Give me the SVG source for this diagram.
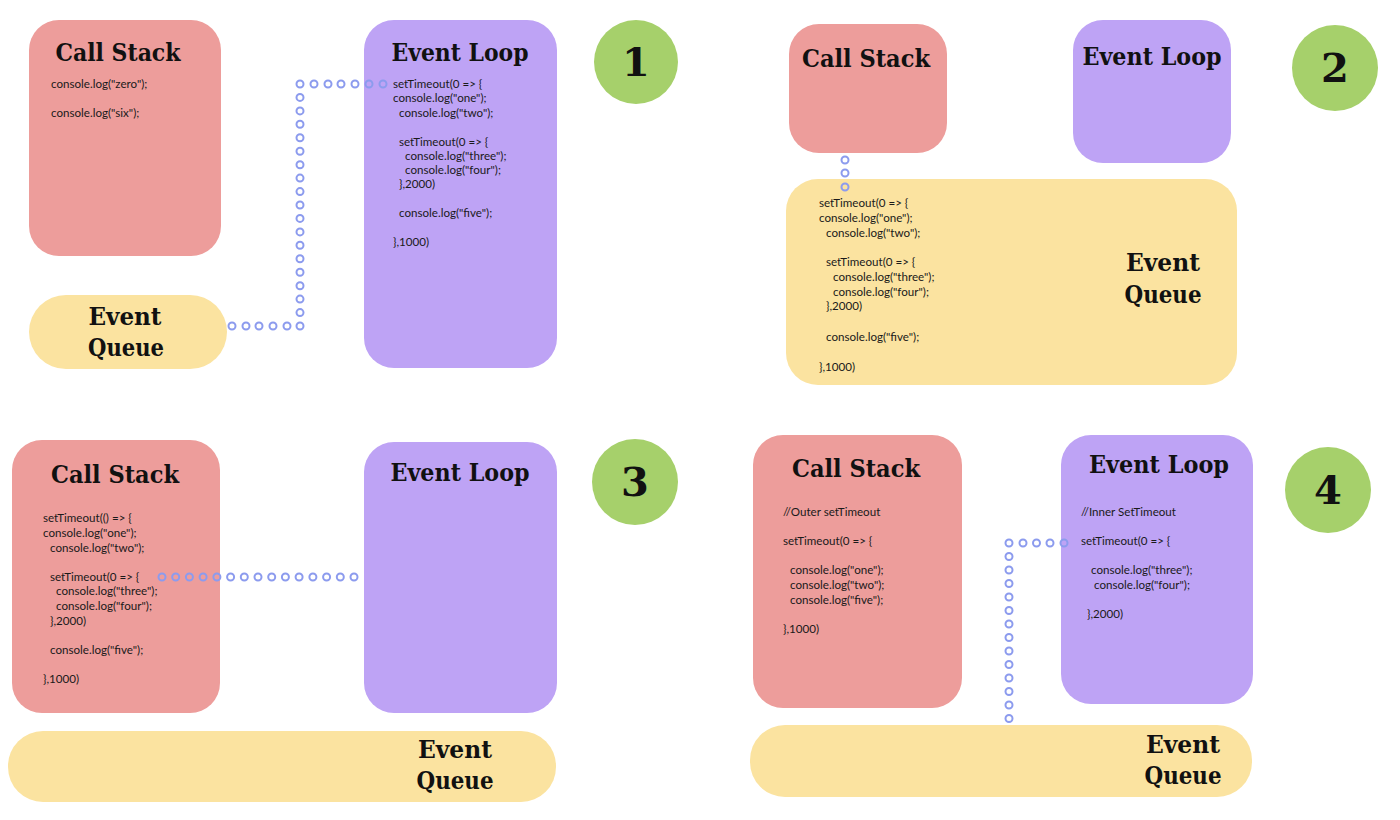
<svg xmlns="http://www.w3.org/2000/svg" xmlns:xlink="http://www.w3.org/1999/xlink" width="1400" height="820" viewBox="0 0 1400 820">
<style>
.cs{fill:#ed9d9b}
.el{fill:#bea3f5}
.eq{fill:#fbe3a0}
.num{fill:#a6d06b}
.t{font-family:"DejaVu Serif Condensed","DejaVu Serif",serif;font-weight:bold;font-size:24px;fill:#111;text-anchor:middle}
.n{font-family:"DejaVu Serif","Liberation Serif",serif;font-weight:bold;font-size:40px;fill:#111;text-anchor:middle}
.c{font-family:Lato,"Liberation Sans",sans-serif;font-size:11.6px;fill:#1a1a1a}
.d{fill:none;stroke:#8c9bee;stroke-width:2}
</style>
<defs>
<circle id="dot" class="d" r="3.5"/>
</defs>
<rect width="1400" height="820" fill="#ffffff"/>

<!-- Panel 1 -->
<g id="p1-callstack">
<rect class="cs" x="29" y="20" width="192" height="236" rx="30"/>
<text class="t" x="118" y="61" textLength="125" lengthAdjust="spacingAndGlyphs">Call Stack</text>
<text class="c" x="51" y="88">console.log("zero");</text>
<text class="c" x="51" y="117">console.log("six");</text>
</g>
<g id="p1-eventqueue">
<rect class="eq" x="29" y="295" width="198" height="74" rx="37"/>
<text class="t" x="125" y="325" textLength="73" lengthAdjust="spacingAndGlyphs">Event</text>
<text class="t" x="126" y="356" textLength="76" lengthAdjust="spacingAndGlyphs">Queue</text>
</g>
<g id="p1-eventloop">
<rect class="el" x="364" y="20" width="193" height="348" rx="30"/>
<text class="t" x="460" y="61" textLength="137" lengthAdjust="spacingAndGlyphs">Event Loop</text>
<text class="c" x="393" y="88">setTimeout(0 =&gt; {</text>
<text class="c" x="393" y="102">console.log("one");</text>
<text class="c" x="399" y="117">console.log("two");</text>
<text class="c" x="399" y="146">setTimeout(0 =&gt; {</text>
<text class="c" x="405" y="160">console.log("three");</text>
<text class="c" x="405" y="174">console.log("four");</text>
<text class="c" x="399" y="188">},2000)</text>
<text class="c" x="399" y="217">console.log("five");</text>
<text class="c" x="393" y="246">},1000)</text>
</g>
<g id="p1-number">
<circle class="num" cx="636" cy="62" r="42"/>
<text class="n" x="636" y="76">1</text>
</g>

<!-- Panel 2 -->
<g id="p2-callstack">
<rect class="cs" x="789" y="24" width="158" height="129" rx="30"/>
<text class="t" x="866" y="67" textLength="128" lengthAdjust="spacingAndGlyphs">Call Stack</text>
</g>
<g id="p2-eventloop">
<rect class="el" x="1073" y="20" width="158" height="143" rx="30"/>
<text class="t" x="1152" y="65" textLength="139" lengthAdjust="spacingAndGlyphs">Event Loop</text>
</g>
<g id="p2-eventqueue">
<rect class="eq" x="786" y="179" width="451" height="206" rx="32"/>
<text class="c" x="819" y="207">setTimeout(0 =&gt; {</text>
<text class="c" x="819" y="222">console.log("one");</text>
<text class="c" x="826" y="237">console.log("two");</text>
<text class="c" x="826" y="266">setTimeout(0 =&gt; {</text>
<text class="c" x="833" y="281">console.log("three");</text>
<text class="c" x="833" y="296">console.log("four");</text>
<text class="c" x="826" y="310">},2000)</text>
<text class="c" x="826" y="341">console.log("five");</text>
<text class="c" x="819" y="371">},1000)</text>
<text class="t" x="1163" y="271" textLength="74" lengthAdjust="spacingAndGlyphs">Event</text>
<text class="t" x="1163" y="303" textLength="77" lengthAdjust="spacingAndGlyphs">Queue</text>
</g>
<g id="p2-number">
<circle class="num" cx="1335" cy="68" r="43"/>
<text class="n" x="1335" y="82">2</text>
</g>

<!-- Panel 3 -->
<g id="p3-callstack">
<rect class="cs" x="12" y="440" width="208" height="273" rx="30"/>
<text class="t" x="115" y="483" textLength="128" lengthAdjust="spacingAndGlyphs">Call Stack</text>
<text class="c" x="43" y="522">setTimeout(() =&gt; {</text>
<text class="c" x="43" y="537">console.log("one");</text>
<text class="c" x="50" y="552">console.log("two");</text>
<text class="c" x="50" y="581">setTimeout(0 =&gt; {</text>
<text class="c" x="56" y="595">console.log("three");</text>
<text class="c" x="56" y="610">console.log("four");</text>
<text class="c" x="50" y="625">},2000)</text>
<text class="c" x="50" y="654">console.log("five");</text>
<text class="c" x="43" y="683">},1000)</text>
</g>
<g id="p3-eventloop">
<rect class="el" x="364" y="442" width="193" height="271" rx="30"/>
<text class="t" x="460" y="481" textLength="139" lengthAdjust="spacingAndGlyphs">Event Loop</text>
</g>
<g id="p3-eventqueue">
<rect class="eq" x="8" y="731" width="548" height="71" rx="35"/>
<text class="t" x="455" y="758" textLength="74" lengthAdjust="spacingAndGlyphs">Event</text>
<text class="t" x="455" y="789" textLength="77" lengthAdjust="spacingAndGlyphs">Queue</text>
</g>
<g id="p3-number">
<circle class="num" cx="635" cy="482" r="43"/>
<text class="n" x="635" y="496">3</text>
</g>

<!-- Panel 4 -->
<g id="p4-callstack">
<rect class="cs" x="753" y="435" width="209" height="273" rx="30"/>
<text class="t" x="856" y="477" textLength="128" lengthAdjust="spacingAndGlyphs">Call Stack</text>
<text class="c" x="783" y="516">//Outer setTimeout</text>
<text class="c" x="783" y="545">setTimeout(0 =&gt; {</text>
<text class="c" x="790" y="574">console.log("one");</text>
<text class="c" x="790" y="589">console.log("two");</text>
<text class="c" x="790" y="604">console.log("five");</text>
<text class="c" x="783" y="633">},1000)</text>
</g>
<g id="p4-eventloop">
<rect class="el" x="1061" y="435" width="192" height="269" rx="30"/>
<text class="t" x="1159" y="473" textLength="140" lengthAdjust="spacingAndGlyphs">Event Loop</text>
<text class="c" x="1081" y="516">//Inner SetTimeout</text>
<text class="c" x="1081" y="545">setTimeout(0 =&gt; {</text>
<text class="c" x="1091" y="574">console.log("three");</text>
<text class="c" x="1094" y="589">console.log("four");</text>
<text class="c" x="1087" y="618">},2000)</text>
</g>
<g id="p4-eventqueue">
<rect class="eq" x="750" y="725" width="502" height="72" rx="35"/>
<text class="t" x="1183" y="753" textLength="74" lengthAdjust="spacingAndGlyphs">Event</text>
<text class="t" x="1183" y="784" textLength="77" lengthAdjust="spacingAndGlyphs">Queue</text>
</g>
<g id="p4-number">
<circle class="num" cx="1328" cy="490" r="43"/>
<text class="n" x="1328" y="504">4</text>
</g>

<!-- Connectors -->
<g id="connectors">
<!-- panel 1 -->
<use xlink:href="#dot" x="314" y="84"/><use xlink:href="#dot" x="328" y="84"/><use xlink:href="#dot" x="341" y="84"/><use xlink:href="#dot" x="355" y="84"/><use xlink:href="#dot" x="369" y="84"/><use xlink:href="#dot" x="383" y="84"/>
<use xlink:href="#dot" x="300" y="84"/><use xlink:href="#dot" x="300" y="97.4"/><use xlink:href="#dot" x="300" y="110.9"/><use xlink:href="#dot" x="300" y="124.3"/><use xlink:href="#dot" x="300" y="137.8"/><use xlink:href="#dot" x="300" y="151.2"/><use xlink:href="#dot" x="300" y="164.7"/><use xlink:href="#dot" x="300" y="178.1"/><use xlink:href="#dot" x="300" y="191.6"/><use xlink:href="#dot" x="300" y="205"/><use xlink:href="#dot" x="300" y="218.4"/><use xlink:href="#dot" x="300" y="231.9"/><use xlink:href="#dot" x="300" y="245.3"/><use xlink:href="#dot" x="300" y="258.8"/><use xlink:href="#dot" x="300" y="272.2"/><use xlink:href="#dot" x="300" y="285.7"/><use xlink:href="#dot" x="300" y="299.1"/><use xlink:href="#dot" x="300" y="312.6"/><use xlink:href="#dot" x="300" y="326"/>
<use xlink:href="#dot" x="232" y="326"/><use xlink:href="#dot" x="246" y="326"/><use xlink:href="#dot" x="259" y="326"/><use xlink:href="#dot" x="273" y="326"/><use xlink:href="#dot" x="287" y="326"/>
<!-- panel 2 -->
<use xlink:href="#dot" x="845" y="160"/><use xlink:href="#dot" x="845" y="173"/><use xlink:href="#dot" x="845" y="187"/>
<!-- panel 3 -->
<use xlink:href="#dot" x="162" y="577"/><use xlink:href="#dot" x="175.7" y="577"/><use xlink:href="#dot" x="189.4" y="577"/><use xlink:href="#dot" x="203.1" y="577"/><use xlink:href="#dot" x="216.9" y="577"/><use xlink:href="#dot" x="230.6" y="577"/><use xlink:href="#dot" x="244.3" y="577"/><use xlink:href="#dot" x="258" y="577"/><use xlink:href="#dot" x="271.7" y="577"/><use xlink:href="#dot" x="285.4" y="577"/><use xlink:href="#dot" x="299.1" y="577"/><use xlink:href="#dot" x="312.9" y="577"/><use xlink:href="#dot" x="326.6" y="577"/><use xlink:href="#dot" x="340.3" y="577"/><use xlink:href="#dot" x="354" y="577"/>
<!-- panel 4 -->
<use xlink:href="#dot" x="1023" y="543"/><use xlink:href="#dot" x="1036.5" y="543"/><use xlink:href="#dot" x="1050" y="543"/><use xlink:href="#dot" x="1064" y="543"/>
<use xlink:href="#dot" x="1009" y="543"/><use xlink:href="#dot" x="1009" y="556.5"/><use xlink:href="#dot" x="1009" y="570"/><use xlink:href="#dot" x="1009" y="583.5"/><use xlink:href="#dot" x="1009" y="597"/><use xlink:href="#dot" x="1009" y="610.5"/><use xlink:href="#dot" x="1009" y="624"/><use xlink:href="#dot" x="1009" y="637.5"/><use xlink:href="#dot" x="1009" y="651"/><use xlink:href="#dot" x="1009" y="664.5"/><use xlink:href="#dot" x="1009" y="678"/><use xlink:href="#dot" x="1009" y="691.5"/><use xlink:href="#dot" x="1009" y="705"/><use xlink:href="#dot" x="1009" y="718.5"/>
</g>
</svg>
